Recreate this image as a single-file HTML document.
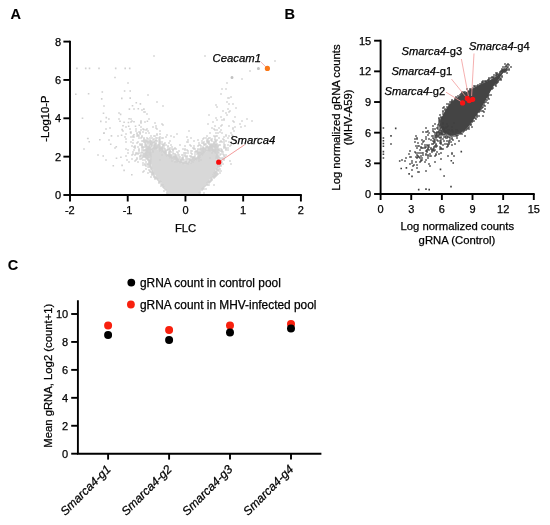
<!DOCTYPE html>
<html><head><meta charset="utf-8"><style>
html,body{margin:0;padding:0;background:#fff;width:550px;height:525px;overflow:hidden}
svg{display:block;will-change:transform}
text{stroke:#000;stroke-width:0.25px;}.h text{stroke-width:0.1px}
</style></head><body>
<svg width="550" height="525" viewBox="0 0 550 525" font-family='"Liberation Sans", sans-serif'><rect width="550" height="525" fill="#fff"/><g font-weight="bold" font-size="15" fill="#000" class="h"><text transform="translate(10.4 18.9) scale(0.97 1.03)">A</text><text transform="translate(284.6 18.9) scale(0.97 1.03)">B</text><text transform="translate(7.8 270.3) scale(0.97 1.03)">C</text></g><polygon points="168.5,194.0 162.0,183.0 155.5,175.5 152.0,167.0 151.0,158.0 151.5,151.0 154.0,149.0 158.0,150.0 163.0,153.0 168.0,157.0 173.0,160.0 179.0,163.0 185.0,165.0 190.0,163.5 196.0,160.5 201.0,156.0 206.0,152.0 211.0,151.0 215.0,153.5 216.5,161.0 216.0,168.0 213.5,174.0 209.0,180.5 203.5,187.0 198.0,194.0" fill="#d8d8d8"/><path d="M145.2 153.2h1.6v1.6h-1.6zM178.2 161.2h1.6v1.6h-1.6zM213.2 151.2h1.6v1.6h-1.6zM147.2 155.2h1.6v1.6h-1.6zM164.2 148.2h1.6v1.6h-1.6zM201.2 152.2h1.6v1.6h-1.6zM163.2 147.2h1.6v1.6h-1.6zM216.2 164.2h1.6v1.6h-1.6zM196.2 157.2h1.6v1.6h-1.6zM159.2 181.2h1.6v1.6h-1.6zM218.2 161.2h1.6v1.6h-1.6zM199.2 191.2h1.6v1.6h-1.6zM207.2 138.2h1.6v1.6h-1.6zM166.2 154.2h1.6v1.6h-1.6zM202.2 147.2h1.6v1.6h-1.6zM185.2 161.2h1.6v1.6h-1.6zM165.2 153.2h1.6v1.6h-1.6zM159.2 180.2h1.6v1.6h-1.6zM164.2 153.2h1.6v1.6h-1.6zM223.2 155.2h1.6v1.6h-1.6zM164.2 152.2h1.6v1.6h-1.6zM186.2 155.2h1.6v1.6h-1.6zM167.2 193.2h1.6v1.6h-1.6zM209.2 149.2h1.6v1.6h-1.6zM202.2 150.2h1.6v1.6h-1.6zM149.2 162.2h1.6v1.6h-1.6zM213.2 172.2h1.6v1.6h-1.6zM163.2 186.2h1.6v1.6h-1.6zM214.2 147.2h1.6v1.6h-1.6zM148.2 151.2h1.6v1.6h-1.6zM166.2 149.2h1.6v1.6h-1.6zM151.2 167.2h1.6v1.6h-1.6zM149.2 154.2h1.6v1.6h-1.6zM182.2 163.2h1.6v1.6h-1.6zM193.2 160.2h1.6v1.6h-1.6zM150.2 142.2h1.6v1.6h-1.6zM149.2 143.2h1.6v1.6h-1.6zM156.2 147.2h1.6v1.6h-1.6zM147.2 140.2h1.6v1.6h-1.6zM142.2 162.2h1.6v1.6h-1.6zM208.2 180.2h1.6v1.6h-1.6zM186.2 158.2h1.6v1.6h-1.6zM150.2 160.2h1.6v1.6h-1.6zM199.2 148.2h1.6v1.6h-1.6zM217.2 156.2h1.6v1.6h-1.6zM194.2 158.2h1.6v1.6h-1.6zM168.2 155.2h1.6v1.6h-1.6zM160.2 150.2h1.6v1.6h-1.6zM198.2 155.2h1.6v1.6h-1.6zM166.2 155.2h1.6v1.6h-1.6zM192.2 161.2h1.6v1.6h-1.6zM155.2 148.2h1.6v1.6h-1.6zM167.2 155.2h1.6v1.6h-1.6zM152.2 148.2h1.6v1.6h-1.6zM186.2 163.2h1.6v1.6h-1.6zM221.2 157.2h1.6v1.6h-1.6zM155.2 147.2h1.6v1.6h-1.6zM169.2 154.2h1.6v1.6h-1.6zM193.2 156.2h1.6v1.6h-1.6zM148.2 149.2h1.6v1.6h-1.6zM149.2 166.2h1.6v1.6h-1.6zM204.2 151.2h1.6v1.6h-1.6zM189.2 162.2h1.6v1.6h-1.6zM216.2 162.2h1.6v1.6h-1.6zM168.2 156.2h1.6v1.6h-1.6zM145.2 152.2h1.6v1.6h-1.6zM146.2 149.2h1.6v1.6h-1.6zM156.2 133.2h1.6v1.6h-1.6zM218.2 166.2h1.6v1.6h-1.6zM151.2 141.2h1.6v1.6h-1.6zM210.2 146.2h1.6v1.6h-1.6zM205.2 146.2h1.6v1.6h-1.6zM175.2 158.2h1.6v1.6h-1.6zM214.2 150.2h1.6v1.6h-1.6zM207.2 147.2h1.6v1.6h-1.6zM159.2 146.2h1.6v1.6h-1.6zM223.2 159.2h1.6v1.6h-1.6zM150.2 159.2h1.6v1.6h-1.6zM161.2 184.2h1.6v1.6h-1.6zM208.2 150.2h1.6v1.6h-1.6zM203.2 152.2h1.6v1.6h-1.6zM219.2 165.2h1.6v1.6h-1.6zM179.2 156.2h1.6v1.6h-1.6zM195.2 159.2h1.6v1.6h-1.6zM139.2 158.2h1.6v1.6h-1.6zM165.2 152.2h1.6v1.6h-1.6zM202.2 187.2h1.6v1.6h-1.6zM190.2 156.2h1.6v1.6h-1.6zM210.2 179.2h1.6v1.6h-1.6zM148.2 159.2h1.6v1.6h-1.6zM159.2 136.2h1.6v1.6h-1.6zM154.2 146.2h1.6v1.6h-1.6zM203.2 141.2h1.6v1.6h-1.6zM191.2 150.2h1.6v1.6h-1.6zM176.2 161.2h1.6v1.6h-1.6zM214.2 144.2h1.6v1.6h-1.6zM169.2 157.2h1.6v1.6h-1.6zM156.2 134.2h1.6v1.6h-1.6zM171.2 154.2h1.6v1.6h-1.6zM169.2 149.2h1.6v1.6h-1.6zM190.2 159.2h1.6v1.6h-1.6zM218.2 144.2h1.6v1.6h-1.6zM161.2 141.2h1.6v1.6h-1.6zM147.2 142.2h1.6v1.6h-1.6zM177.2 158.2h1.6v1.6h-1.6zM151.2 148.2h1.6v1.6h-1.6zM161.2 149.2h1.6v1.6h-1.6zM186.2 160.2h1.6v1.6h-1.6zM147.2 150.2h1.6v1.6h-1.6zM217.2 160.2h1.6v1.6h-1.6zM149.2 161.2h1.6v1.6h-1.6zM191.2 156.2h1.6v1.6h-1.6zM215.2 154.2h1.6v1.6h-1.6zM185.2 160.2h1.6v1.6h-1.6zM153.2 172.2h1.6v1.6h-1.6zM214.2 146.2h1.6v1.6h-1.6zM149.2 151.2h1.6v1.6h-1.6zM215.2 150.2h1.6v1.6h-1.6zM152.2 170.2h1.6v1.6h-1.6zM197.2 149.2h1.6v1.6h-1.6zM216.2 172.2h1.6v1.6h-1.6zM146.2 148.2h1.6v1.6h-1.6zM211.2 149.2h1.6v1.6h-1.6zM216.2 157.2h1.6v1.6h-1.6zM219.2 150.2h1.6v1.6h-1.6zM205.2 148.2h1.6v1.6h-1.6zM202.2 152.2h1.6v1.6h-1.6zM148.2 160.2h1.6v1.6h-1.6zM153.2 141.2h1.6v1.6h-1.6zM142.2 149.2h1.6v1.6h-1.6zM169.2 155.2h1.6v1.6h-1.6zM211.2 145.2h1.6v1.6h-1.6zM204.2 148.2h1.6v1.6h-1.6zM181.2 162.2h1.6v1.6h-1.6zM211.2 148.2h1.6v1.6h-1.6zM197.2 156.2h1.6v1.6h-1.6zM161.2 151.2h1.6v1.6h-1.6zM217.2 154.2h1.6v1.6h-1.6zM194.2 151.2h1.6v1.6h-1.6zM215.2 168.2h1.6v1.6h-1.6zM215.2 153.2h1.6v1.6h-1.6zM174.2 158.2h1.6v1.6h-1.6zM149.2 155.2h1.6v1.6h-1.6zM215.2 148.2h1.6v1.6h-1.6zM149.2 146.2h1.6v1.6h-1.6zM216.2 156.2h1.6v1.6h-1.6zM209.2 150.2h1.6v1.6h-1.6zM150.2 149.2h1.6v1.6h-1.6zM182.2 157.2h1.6v1.6h-1.6zM141.2 145.2h1.6v1.6h-1.6zM160.2 185.2h1.6v1.6h-1.6zM204.2 185.2h1.6v1.6h-1.6zM150.2 143.2h1.6v1.6h-1.6zM149.2 171.2h1.6v1.6h-1.6zM147.2 164.2h1.6v1.6h-1.6zM218.2 149.2h1.6v1.6h-1.6zM162.2 185.2h1.6v1.6h-1.6zM176.2 157.2h1.6v1.6h-1.6zM220.2 165.2h1.6v1.6h-1.6zM211.2 138.2h1.6v1.6h-1.6zM197.2 153.2h1.6v1.6h-1.6zM159.2 143.2h1.6v1.6h-1.6zM153.2 145.2h1.6v1.6h-1.6zM221.2 161.2h1.6v1.6h-1.6zM212.2 150.2h1.6v1.6h-1.6zM162.2 184.2h1.6v1.6h-1.6zM219.2 168.2h1.6v1.6h-1.6zM150.2 165.2h1.6v1.6h-1.6zM222.2 151.2h1.6v1.6h-1.6zM148.2 161.2h1.6v1.6h-1.6zM144.2 144.2h1.6v1.6h-1.6zM156.2 148.2h1.6v1.6h-1.6zM208.2 184.2h1.6v1.6h-1.6zM201.2 140.2h1.6v1.6h-1.6zM213.2 184.2h1.6v1.6h-1.6zM151.2 137.2h1.6v1.6h-1.6zM158.2 148.2h1.6v1.6h-1.6zM166.2 192.2h1.6v1.6h-1.6zM148.2 166.2h1.6v1.6h-1.6zM206.2 150.2h1.6v1.6h-1.6zM159.2 149.2h1.6v1.6h-1.6zM202.2 149.2h1.6v1.6h-1.6zM205.2 147.2h1.6v1.6h-1.6zM216.2 147.2h1.6v1.6h-1.6zM215.2 156.2h1.6v1.6h-1.6zM159.2 140.2h1.6v1.6h-1.6zM150.2 151.2h1.6v1.6h-1.6zM178.2 150.2h1.6v1.6h-1.6zM151.2 168.2h1.6v1.6h-1.6zM185.2 162.2h1.6v1.6h-1.6zM150.2 176.2h1.6v1.6h-1.6zM177.2 154.2h1.6v1.6h-1.6zM149.2 148.2h1.6v1.6h-1.6zM178.2 158.2h1.6v1.6h-1.6zM217.2 169.2h1.6v1.6h-1.6zM173.2 157.2h1.6v1.6h-1.6zM191.2 160.2h1.6v1.6h-1.6zM141.2 147.2h1.6v1.6h-1.6zM210.2 177.2h1.6v1.6h-1.6zM212.2 174.2h1.6v1.6h-1.6zM158.2 149.2h1.6v1.6h-1.6zM202.2 148.2h1.6v1.6h-1.6zM218.2 148.2h1.6v1.6h-1.6zM151.2 149.2h1.6v1.6h-1.6zM187.2 162.2h1.6v1.6h-1.6zM145.2 165.2h1.6v1.6h-1.6zM211.2 178.2h1.6v1.6h-1.6zM146.2 163.2h1.6v1.6h-1.6zM213.2 175.2h1.6v1.6h-1.6zM200.2 145.2h1.6v1.6h-1.6zM148.2 162.2h1.6v1.6h-1.6zM154.2 144.2h1.6v1.6h-1.6zM153.2 146.2h1.6v1.6h-1.6zM189.2 155.2h1.6v1.6h-1.6zM187.2 163.2h1.6v1.6h-1.6zM219.2 158.2h1.6v1.6h-1.6zM171.2 158.2h1.6v1.6h-1.6zM153.2 175.2h1.6v1.6h-1.6zM207.2 148.2h1.6v1.6h-1.6zM216.2 154.2h1.6v1.6h-1.6zM216.2 163.2h1.6v1.6h-1.6zM217.2 166.2h1.6v1.6h-1.6zM182.2 159.2h1.6v1.6h-1.6zM206.2 182.2h1.6v1.6h-1.6zM177.2 161.2h1.6v1.6h-1.6zM150.2 141.2h1.6v1.6h-1.6zM220.2 161.2h1.6v1.6h-1.6zM203.2 192.2h1.6v1.6h-1.6zM203.2 144.2h1.6v1.6h-1.6zM210.2 144.2h1.6v1.6h-1.6zM155.2 177.2h1.6v1.6h-1.6zM209.2 148.2h1.6v1.6h-1.6zM168.2 153.2h1.6v1.6h-1.6zM161.2 143.2h1.6v1.6h-1.6zM199.2 152.2h1.6v1.6h-1.6zM165.2 189.2h1.6v1.6h-1.6zM178.2 160.2h1.6v1.6h-1.6zM182.2 158.2h1.6v1.6h-1.6zM219.2 163.2h1.6v1.6h-1.6zM200.2 151.2h1.6v1.6h-1.6zM208.2 181.2h1.6v1.6h-1.6zM185.2 156.2h1.6v1.6h-1.6zM160.2 148.2h1.6v1.6h-1.6zM198.2 152.2h1.6v1.6h-1.6zM190.2 162.2h1.6v1.6h-1.6zM206.2 140.2h1.6v1.6h-1.6zM150.2 152.2h1.6v1.6h-1.6zM152.2 171.2h1.6v1.6h-1.6zM180.2 162.2h1.6v1.6h-1.6zM154.2 142.2h1.6v1.6h-1.6zM222.2 157.2h1.6v1.6h-1.6zM206.2 183.2h1.6v1.6h-1.6zM207.2 181.2h1.6v1.6h-1.6zM202.2 138.2h1.6v1.6h-1.6zM139.2 155.2h1.6v1.6h-1.6zM186.2 136.2h1.6v1.6h-1.6zM158.2 147.2h1.6v1.6h-1.6zM216.2 165.2h1.6v1.6h-1.6zM177.2 152.2h1.6v1.6h-1.6zM177.2 160.2h1.6v1.6h-1.6zM174.2 157.2h1.6v1.6h-1.6zM206.2 135.2h1.6v1.6h-1.6zM216.2 153.2h1.6v1.6h-1.6zM170.2 155.2h1.6v1.6h-1.6zM215.2 175.2h1.6v1.6h-1.6zM153.2 147.2h1.6v1.6h-1.6zM140.2 137.2h1.6v1.6h-1.6zM185.2 163.2h1.6v1.6h-1.6zM207.2 150.2h1.6v1.6h-1.6zM153.2 173.2h1.6v1.6h-1.6zM203.2 148.2h1.6v1.6h-1.6zM181.2 157.2h1.6v1.6h-1.6zM150.2 140.2h1.6v1.6h-1.6zM167.2 146.2h1.6v1.6h-1.6zM194.2 159.2h1.6v1.6h-1.6zM214.2 174.2h1.6v1.6h-1.6zM217.2 150.2h1.6v1.6h-1.6zM209.2 180.2h1.6v1.6h-1.6zM149.2 157.2h1.6v1.6h-1.6zM157.2 146.2h1.6v1.6h-1.6zM203.2 150.2h1.6v1.6h-1.6zM212.2 175.2h1.6v1.6h-1.6zM218.2 160.2h1.6v1.6h-1.6zM193.2 140.2h1.6v1.6h-1.6zM219.2 172.2h1.6v1.6h-1.6zM145.2 161.2h1.6v1.6h-1.6zM162.2 144.2h1.6v1.6h-1.6zM211.2 147.2h1.6v1.6h-1.6zM145.2 155.2h1.6v1.6h-1.6zM156.2 178.2h1.6v1.6h-1.6zM162.2 147.2h1.6v1.6h-1.6zM217.2 173.2h1.6v1.6h-1.6zM149.2 165.2h1.6v1.6h-1.6zM137.2 153.2h1.6v1.6h-1.6zM159.2 130.2h1.6v1.6h-1.6zM205.2 188.2h1.6v1.6h-1.6zM216.2 174.2h1.6v1.6h-1.6zM150.2 155.2h1.6v1.6h-1.6zM145.2 145.2h1.6v1.6h-1.6zM174.2 155.2h1.6v1.6h-1.6zM150.2 162.2h1.6v1.6h-1.6zM219.2 144.2h1.6v1.6h-1.6zM164.2 188.2h1.6v1.6h-1.6zM216.2 149.2h1.6v1.6h-1.6zM154.2 135.2h1.6v1.6h-1.6zM158.2 180.2h1.6v1.6h-1.6zM215.2 151.2h1.6v1.6h-1.6zM219.2 141.2h1.6v1.6h-1.6zM146.2 151.2h1.6v1.6h-1.6zM163.2 151.2h1.6v1.6h-1.6zM149.2 149.2h1.6v1.6h-1.6zM176.2 160.2h1.6v1.6h-1.6zM154.2 177.2h1.6v1.6h-1.6zM184.2 163.2h1.6v1.6h-1.6zM219.2 157.2h1.6v1.6h-1.6zM197.2 157.2h1.6v1.6h-1.6zM159.2 145.2h1.6v1.6h-1.6zM211.2 176.2h1.6v1.6h-1.6zM188.2 158.2h1.6v1.6h-1.6zM213.2 143.2h1.6v1.6h-1.6zM212.2 144.2h1.6v1.6h-1.6zM213.2 176.2h1.6v1.6h-1.6zM145.2 154.2h1.6v1.6h-1.6zM155.2 146.2h1.6v1.6h-1.6zM157.2 178.2h1.6v1.6h-1.6zM218.2 152.2h1.6v1.6h-1.6zM215.2 157.2h1.6v1.6h-1.6zM148.2 164.2h1.6v1.6h-1.6zM148.2 152.2h1.6v1.6h-1.6zM147.2 149.2h1.6v1.6h-1.6zM165.2 136.2h1.6v1.6h-1.6zM173.2 136.2h1.6v1.6h-1.6zM218.2 168.2h1.6v1.6h-1.6zM158.2 141.2h1.6v1.6h-1.6zM143.2 170.2h1.6v1.6h-1.6zM151.2 173.2h1.6v1.6h-1.6zM148.2 154.2h1.6v1.6h-1.6zM196.2 153.2h1.6v1.6h-1.6zM188.2 130.2h1.6v1.6h-1.6zM206.2 145.2h1.6v1.6h-1.6zM151.2 143.2h1.6v1.6h-1.6zM137.2 161.2h1.6v1.6h-1.6zM196.2 150.2h1.6v1.6h-1.6zM210.2 147.2h1.6v1.6h-1.6zM151.2 145.2h1.6v1.6h-1.6zM147.2 159.2h1.6v1.6h-1.6zM155.2 176.2h1.6v1.6h-1.6zM216.2 170.2h1.6v1.6h-1.6zM183.2 163.2h1.6v1.6h-1.6zM210.2 178.2h1.6v1.6h-1.6zM173.2 155.2h1.6v1.6h-1.6zM211.2 179.2h1.6v1.6h-1.6zM202.2 146.2h1.6v1.6h-1.6zM154.2 148.2h1.6v1.6h-1.6zM187.2 150.2h1.6v1.6h-1.6zM211.2 150.2h1.6v1.6h-1.6zM176.2 159.2h1.6v1.6h-1.6zM148.2 147.2h1.6v1.6h-1.6zM147.2 146.2h1.6v1.6h-1.6zM199.2 154.2h1.6v1.6h-1.6zM214.2 170.2h1.6v1.6h-1.6zM180.2 161.2h1.6v1.6h-1.6zM153.2 176.2h1.6v1.6h-1.6zM173.2 159.2h1.6v1.6h-1.6zM194.2 148.2h1.6v1.6h-1.6zM169.2 147.2h1.6v1.6h-1.6zM165.2 154.2h1.6v1.6h-1.6zM214.2 149.2h1.6v1.6h-1.6zM145.2 150.2h1.6v1.6h-1.6zM155.2 142.2h1.6v1.6h-1.6zM149.2 170.2h1.6v1.6h-1.6zM223.2 158.2h1.6v1.6h-1.6zM163.2 187.2h1.6v1.6h-1.6zM150.2 161.2h1.6v1.6h-1.6zM199.2 192.2h1.6v1.6h-1.6zM160.2 181.2h1.6v1.6h-1.6zM225.2 154.2h1.6v1.6h-1.6zM152.2 141.2h1.6v1.6h-1.6zM147.2 156.2h1.6v1.6h-1.6zM217.2 145.2h1.6v1.6h-1.6zM225.2 148.2h1.6v1.6h-1.6zM133.2 149.2h1.6v1.6h-1.6zM218.2 162.2h1.6v1.6h-1.6zM154.2 178.2h1.6v1.6h-1.6zM168.2 154.2h1.6v1.6h-1.6zM201.2 142.2h1.6v1.6h-1.6zM217.2 164.2h1.6v1.6h-1.6zM201.2 153.2h1.6v1.6h-1.6zM142.2 164.2h1.6v1.6h-1.6zM194.2 153.2h1.6v1.6h-1.6zM216.2 160.2h1.6v1.6h-1.6zM218.2 170.2h1.6v1.6h-1.6zM167.2 145.2h1.6v1.6h-1.6zM163.2 152.2h1.6v1.6h-1.6zM162.2 151.2h1.6v1.6h-1.6zM167.2 148.2h1.6v1.6h-1.6zM149.2 159.2h1.6v1.6h-1.6zM181.2 158.2h1.6v1.6h-1.6zM212.2 149.2h1.6v1.6h-1.6zM193.2 147.2h1.6v1.6h-1.6zM215.2 152.2h1.6v1.6h-1.6zM186.2 149.2h1.6v1.6h-1.6zM213.2 173.2h1.6v1.6h-1.6zM147.2 154.2h1.6v1.6h-1.6zM150.2 171.2h1.6v1.6h-1.6zM219.2 164.2h1.6v1.6h-1.6zM170.2 157.2h1.6v1.6h-1.6zM191.2 158.2h1.6v1.6h-1.6zM168.2 152.2h1.6v1.6h-1.6zM212.2 176.2h1.6v1.6h-1.6zM146.2 147.2h1.6v1.6h-1.6zM208.2 147.2h1.6v1.6h-1.6zM200.2 152.2h1.6v1.6h-1.6zM197.2 155.2h1.6v1.6h-1.6zM166.2 193.2h1.6v1.6h-1.6zM150.2 166.2h1.6v1.6h-1.6zM165.2 151.2h1.6v1.6h-1.6zM169.2 153.2h1.6v1.6h-1.6zM186.2 141.2h1.6v1.6h-1.6zM175.2 160.2h1.6v1.6h-1.6zM186.2 156.2h1.6v1.6h-1.6zM150.2 156.2h1.6v1.6h-1.6zM192.2 156.2h1.6v1.6h-1.6zM154.2 143.2h1.6v1.6h-1.6zM148.2 153.2h1.6v1.6h-1.6zM194.2 155.2h1.6v1.6h-1.6zM216.2 169.2h1.6v1.6h-1.6zM159.2 147.2h1.6v1.6h-1.6zM156.2 145.2h1.6v1.6h-1.6zM149.2 147.2h1.6v1.6h-1.6zM215.2 174.2h1.6v1.6h-1.6zM166.2 191.2h1.6v1.6h-1.6zM161.2 147.2h1.6v1.6h-1.6zM203.2 151.2h1.6v1.6h-1.6zM200.2 147.2h1.6v1.6h-1.6zM153.2 174.2h1.6v1.6h-1.6zM172.2 150.2h1.6v1.6h-1.6zM217.2 148.2h1.6v1.6h-1.6zM229.2 160.2h1.6v1.6h-1.6zM221.2 151.2h1.6v1.6h-1.6zM201.2 154.2h1.6v1.6h-1.6zM146.2 158.2h1.6v1.6h-1.6zM154.2 176.2h1.6v1.6h-1.6zM181.2 159.2h1.6v1.6h-1.6zM220.2 162.2h1.6v1.6h-1.6zM218.2 156.2h1.6v1.6h-1.6zM200.2 149.2h1.6v1.6h-1.6zM216.2 146.2h1.6v1.6h-1.6zM187.2 158.2h1.6v1.6h-1.6zM223.2 143.2h1.6v1.6h-1.6zM195.2 157.2h1.6v1.6h-1.6zM175.2 157.2h1.6v1.6h-1.6zM161.2 148.2h1.6v1.6h-1.6zM154.2 122.2h1.6v1.6h-1.6zM188.2 162.2h1.6v1.6h-1.6zM209.2 147.2h1.6v1.6h-1.6zM204.2 143.2h1.6v1.6h-1.6zM175.2 159.2h1.6v1.6h-1.6zM173.2 156.2h1.6v1.6h-1.6zM204.2 144.2h1.6v1.6h-1.6zM165.2 144.2h1.6v1.6h-1.6zM150.2 168.2h1.6v1.6h-1.6zM205.2 150.2h1.6v1.6h-1.6zM146.2 128.2h1.6v1.6h-1.6zM180.2 160.2h1.6v1.6h-1.6zM208.2 182.2h1.6v1.6h-1.6zM172.2 149.2h1.6v1.6h-1.6zM216.2 167.2h1.6v1.6h-1.6zM174.2 153.2h1.6v1.6h-1.6zM194.2 157.2h1.6v1.6h-1.6zM190.2 150.2h1.6v1.6h-1.6zM216.2 155.2h1.6v1.6h-1.6zM193.2 145.2h1.6v1.6h-1.6zM146.2 153.2h1.6v1.6h-1.6zM195.2 158.2h1.6v1.6h-1.6zM201.2 189.2h1.6v1.6h-1.6zM159.2 141.2h1.6v1.6h-1.6zM219.2 154.2h1.6v1.6h-1.6zM199.2 151.2h1.6v1.6h-1.6zM170.2 144.2h1.6v1.6h-1.6zM174.2 147.2h1.6v1.6h-1.6zM172.2 158.2h1.6v1.6h-1.6zM141.2 143.2h1.6v1.6h-1.6zM193.2 159.2h1.6v1.6h-1.6zM145.2 168.2h1.6v1.6h-1.6zM202.2 153.2h1.6v1.6h-1.6zM191.2 161.2h1.6v1.6h-1.6zM150.2 158.2h1.6v1.6h-1.6zM164.2 151.2h1.6v1.6h-1.6zM181.2 154.2h1.6v1.6h-1.6zM156.2 177.2h1.6v1.6h-1.6zM202.2 151.2h1.6v1.6h-1.6zM214.2 175.2h1.6v1.6h-1.6zM144.2 159.2h1.6v1.6h-1.6zM190.2 145.2h1.6v1.6h-1.6zM145.2 141.2h1.6v1.6h-1.6zM176.2 151.2h1.6v1.6h-1.6zM201.2 150.2h1.6v1.6h-1.6zM184.2 161.2h1.6v1.6h-1.6zM175.2 156.2h1.6v1.6h-1.6zM147.2 166.2h1.6v1.6h-1.6zM216.2 166.2h1.6v1.6h-1.6zM149.2 160.2h1.6v1.6h-1.6zM183.2 161.2h1.6v1.6h-1.6zM167.2 149.2h1.6v1.6h-1.6zM193.2 148.2h1.6v1.6h-1.6zM208.2 146.2h1.6v1.6h-1.6zM179.2 160.2h1.6v1.6h-1.6zM216.2 151.2h1.6v1.6h-1.6zM151.2 174.2h1.6v1.6h-1.6zM145.2 151.2h1.6v1.6h-1.6zM197.2 139.2h1.6v1.6h-1.6zM208.2 149.2h1.6v1.6h-1.6zM150.2 154.2h1.6v1.6h-1.6zM160.2 183.2h1.6v1.6h-1.6zM184.2 155.2h1.6v1.6h-1.6zM147.2 147.2h1.6v1.6h-1.6zM223.2 146.2h1.6v1.6h-1.6zM158.2 182.2h1.6v1.6h-1.6zM210.2 145.2h1.6v1.6h-1.6zM160.2 147.2h1.6v1.6h-1.6zM163.2 190.2h1.6v1.6h-1.6zM162.2 149.2h1.6v1.6h-1.6zM188.2 160.2h1.6v1.6h-1.6zM148.2 156.2h1.6v1.6h-1.6zM144.2 163.2h1.6v1.6h-1.6zM189.2 159.2h1.6v1.6h-1.6zM224.2 144.2h1.6v1.6h-1.6zM147.2 158.2h1.6v1.6h-1.6zM148.2 145.2h1.6v1.6h-1.6zM200.2 154.2h1.6v1.6h-1.6zM183.2 159.2h1.6v1.6h-1.6zM164.2 150.2h1.6v1.6h-1.6zM196.2 158.2h1.6v1.6h-1.6zM217.2 146.2h1.6v1.6h-1.6zM151.2 169.2h1.6v1.6h-1.6zM207.2 149.2h1.6v1.6h-1.6zM214.2 176.2h1.6v1.6h-1.6zM147.2 172.2h1.6v1.6h-1.6zM210.2 149.2h1.6v1.6h-1.6zM217.2 152.2h1.6v1.6h-1.6zM205.2 143.2h1.6v1.6h-1.6zM217.2 157.2h1.6v1.6h-1.6zM234.2 139.2h1.6v1.6h-1.6zM174.2 156.2h1.6v1.6h-1.6zM216.2 168.2h1.6v1.6h-1.6zM208.2 148.2h1.6v1.6h-1.6zM197.2 145.2h1.6v1.6h-1.6zM224.2 156.2h1.6v1.6h-1.6zM158.2 139.2h1.6v1.6h-1.6zM201.2 188.2h1.6v1.6h-1.6zM206.2 141.2h1.6v1.6h-1.6zM146.2 152.2h1.6v1.6h-1.6zM192.2 158.2h1.6v1.6h-1.6zM185.2 158.2h1.6v1.6h-1.6zM145.2 156.2h1.6v1.6h-1.6zM190.2 155.2h1.6v1.6h-1.6zM163.2 145.2h1.6v1.6h-1.6zM214.2 172.2h1.6v1.6h-1.6zM182.2 148.2h1.6v1.6h-1.6zM214.2 151.2h1.6v1.6h-1.6zM209.2 144.2h1.6v1.6h-1.6zM157.2 179.2h1.6v1.6h-1.6zM216.2 173.2h1.6v1.6h-1.6zM177.2 159.2h1.6v1.6h-1.6zM221.2 158.2h1.6v1.6h-1.6zM134.2 160.2h1.6v1.6h-1.6zM143.2 149.2h1.6v1.6h-1.6zM164.2 149.2h1.6v1.6h-1.6zM147.2 163.2h1.6v1.6h-1.6zM183.2 152.2h1.6v1.6h-1.6zM215.2 155.2h1.6v1.6h-1.6zM220.2 170.2h1.6v1.6h-1.6zM182.2 156.2h1.6v1.6h-1.6zM189.2 160.2h1.6v1.6h-1.6zM171.2 156.2h1.6v1.6h-1.6zM152.2 147.2h1.6v1.6h-1.6zM170.2 156.2h1.6v1.6h-1.6zM162.2 137.2h1.6v1.6h-1.6zM188.2 161.2h1.6v1.6h-1.6zM183.2 162.2h1.6v1.6h-1.6zM209.2 146.2h1.6v1.6h-1.6zM146.2 145.2h1.6v1.6h-1.6zM198.2 154.2h1.6v1.6h-1.6zM140.2 154.2h1.6v1.6h-1.6zM155.2 127.2h1.6v1.6h-1.6zM146.2 154.2h1.6v1.6h-1.6zM203.2 147.2h1.6v1.6h-1.6zM209.2 181.2h1.6v1.6h-1.6zM161.2 146.2h1.6v1.6h-1.6zM151.2 144.2h1.6v1.6h-1.6zM213.2 177.2h1.6v1.6h-1.6zM156.2 146.2h1.6v1.6h-1.6zM144.2 153.2h1.6v1.6h-1.6zM155.2 140.2h1.6v1.6h-1.6zM199.2 155.2h1.6v1.6h-1.6zM164.2 142.2h1.6v1.6h-1.6zM199.2 149.2h1.6v1.6h-1.6zM170.2 154.2h1.6v1.6h-1.6zM198.2 156.2h1.6v1.6h-1.6zM195.2 151.2h1.6v1.6h-1.6zM185.2 152.2h1.6v1.6h-1.6zM176.2 156.2h1.6v1.6h-1.6zM215.2 140.2h1.6v1.6h-1.6zM207.2 146.2h1.6v1.6h-1.6zM206.2 139.2h1.6v1.6h-1.6zM161.2 137.2h1.6v1.6h-1.6zM163.2 144.2h1.6v1.6h-1.6zM176.2 158.2h1.6v1.6h-1.6zM170.2 135.2h1.6v1.6h-1.6zM168.2 148.2h1.6v1.6h-1.6zM159.2 148.2h1.6v1.6h-1.6zM172.2 156.2h1.6v1.6h-1.6zM155.2 144.2h1.6v1.6h-1.6zM176.2 133.2h1.6v1.6h-1.6zM179.2 158.2h1.6v1.6h-1.6zM197.2 151.2h1.6v1.6h-1.6zM212.2 151.2h1.6v1.6h-1.6zM208.2 141.2h1.6v1.6h-1.6zM212.2 148.2h1.6v1.6h-1.6zM207.2 141.2h1.6v1.6h-1.6zM169.2 151.2h1.6v1.6h-1.6zM142.2 171.2h1.6v1.6h-1.6zM214.2 171.2h1.6v1.6h-1.6zM150.2 148.2h1.6v1.6h-1.6zM192.2 157.2h1.6v1.6h-1.6zM161.2 183.2h1.6v1.6h-1.6zM195.2 150.2h1.6v1.6h-1.6zM197.2 148.2h1.6v1.6h-1.6zM140.2 152.2h1.6v1.6h-1.6zM175.2 154.2h1.6v1.6h-1.6zM217.2 159.2h1.6v1.6h-1.6zM169.2 156.2h1.6v1.6h-1.6zM146.2 140.2h1.6v1.6h-1.6zM179.2 162.2h1.6v1.6h-1.6zM198.2 193.2h1.6v1.6h-1.6zM151.2 172.2h1.6v1.6h-1.6zM214.2 152.2h1.6v1.6h-1.6zM191.2 153.2h1.6v1.6h-1.6zM151.2 171.2h1.6v1.6h-1.6zM201.2 148.2h1.6v1.6h-1.6zM206.2 184.2h1.6v1.6h-1.6zM196.2 151.2h1.6v1.6h-1.6zM162.2 145.2h1.6v1.6h-1.6zM165.2 150.2h1.6v1.6h-1.6zM167.2 154.2h1.6v1.6h-1.6zM203.2 186.2h1.6v1.6h-1.6zM152.2 172.2h1.6v1.6h-1.6zM136.2 158.2h1.6v1.6h-1.6zM230.2 163.2h1.6v1.6h-1.6zM220.2 164.2h1.6v1.6h-1.6zM157.2 144.2h1.6v1.6h-1.6zM221.2 150.2h1.6v1.6h-1.6zM149.2 164.2h1.6v1.6h-1.6zM207.2 184.2h1.6v1.6h-1.6zM182.2 154.2h1.6v1.6h-1.6zM217.2 158.2h1.6v1.6h-1.6zM170.2 151.2h1.6v1.6h-1.6zM186.2 162.2h1.6v1.6h-1.6zM148.2 141.2h1.6v1.6h-1.6zM198.2 192.2h1.6v1.6h-1.6zM215.2 171.2h1.6v1.6h-1.6zM150.2 167.2h1.6v1.6h-1.6zM147.2 152.2h1.6v1.6h-1.6zM153.2 144.2h1.6v1.6h-1.6zM152.2 173.2h1.6v1.6h-1.6zM148.2 169.2h1.6v1.6h-1.6zM172.2 152.2h1.6v1.6h-1.6zM184.2 145.2h1.6v1.6h-1.6zM227.2 147.2h1.6v1.6h-1.6zM150.2 153.2h1.6v1.6h-1.6zM205.2 184.2h1.6v1.6h-1.6zM159.2 150.2h1.6v1.6h-1.6zM221.2 149.2h1.6v1.6h-1.6zM212.2 146.2h1.6v1.6h-1.6zM147.2 157.2h1.6v1.6h-1.6zM217.2 155.2h1.6v1.6h-1.6zM136.2 157.2h1.6v1.6h-1.6zM179.2 144.2h1.6v1.6h-1.6zM171.2 148.2h1.6v1.6h-1.6zM214.2 148.2h1.6v1.6h-1.6zM168.2 151.2h1.6v1.6h-1.6zM215.2 149.2h1.6v1.6h-1.6zM173.2 148.2h1.6v1.6h-1.6zM132.2 151.2h1.6v1.6h-1.6zM145.2 139.2h1.6v1.6h-1.6zM198.2 153.2h1.6v1.6h-1.6zM205.2 149.2h1.6v1.6h-1.6zM149.2 163.2h1.6v1.6h-1.6zM142.2 147.2h1.6v1.6h-1.6zM197.2 152.2h1.6v1.6h-1.6zM158.2 144.2h1.6v1.6h-1.6zM189.2 144.2h1.6v1.6h-1.6zM184.2 154.2h1.6v1.6h-1.6zM169.2 150.2h1.6v1.6h-1.6zM149.2 139.2h1.6v1.6h-1.6zM222.2 163.2h1.6v1.6h-1.6zM216.2 158.2h1.6v1.6h-1.6zM149.2 150.2h1.6v1.6h-1.6zM171.2 146.2h1.6v1.6h-1.6zM162.2 150.2h1.6v1.6h-1.6zM204.2 149.2h1.6v1.6h-1.6zM144.2 164.2h1.6v1.6h-1.6zM145.2 146.2h1.6v1.6h-1.6zM215.2 141.2h1.6v1.6h-1.6zM150.2 163.2h1.6v1.6h-1.6zM203.2 188.2h1.6v1.6h-1.6zM219.2 159.2h1.6v1.6h-1.6zM158.2 145.2h1.6v1.6h-1.6zM190.2 160.2h1.6v1.6h-1.6zM178.2 154.2h1.6v1.6h-1.6zM171.2 157.2h1.6v1.6h-1.6zM175.2 155.2h1.6v1.6h-1.6zM214.2 173.2h1.6v1.6h-1.6zM181.2 161.2h1.6v1.6h-1.6zM199.2 144.2h1.6v1.6h-1.6zM158.2 181.2h1.6v1.6h-1.6zM208.2 143.2h1.6v1.6h-1.6zM210.2 180.2h1.6v1.6h-1.6zM218.2 165.2h1.6v1.6h-1.6zM147.2 151.2h1.6v1.6h-1.6zM209.2 145.2h1.6v1.6h-1.6zM162.2 186.2h1.6v1.6h-1.6zM203.2 137.2h1.6v1.6h-1.6zM206.2 146.2h1.6v1.6h-1.6zM182.2 162.2h1.6v1.6h-1.6zM215.2 144.2h1.6v1.6h-1.6zM215.2 172.2h1.6v1.6h-1.6zM144.2 152.2h1.6v1.6h-1.6zM179.2 161.2h1.6v1.6h-1.6zM184.2 148.2h1.6v1.6h-1.6zM202.2 188.2h1.6v1.6h-1.6zM200.2 153.2h1.6v1.6h-1.6zM163.2 143.2h1.6v1.6h-1.6zM152.2 126.2h1.6v1.6h-1.6zM208.2 142.2h1.6v1.6h-1.6zM144.2 111.2h1.6v1.6h-1.6zM143.2 150.2h1.6v1.6h-1.6zM135.2 159.2h1.6v1.6h-1.6zM142.2 156.2h1.6v1.6h-1.6zM131.2 154.2h1.6v1.6h-1.6zM132.2 142.2h1.6v1.6h-1.6zM148.2 132.2h1.6v1.6h-1.6zM149.2 152.2h1.6v1.6h-1.6zM97.2 154.2h1.6v1.6h-1.6zM142.2 154.2h1.6v1.6h-1.6zM144.2 149.2h1.6v1.6h-1.6zM137.2 141.2h1.6v1.6h-1.6zM140.2 126.2h1.6v1.6h-1.6zM105.2 121.2h1.6v1.6h-1.6zM138.2 152.2h1.6v1.6h-1.6zM138.2 135.2h1.6v1.6h-1.6zM156.2 101.2h1.6v1.6h-1.6zM137.2 134.2h1.6v1.6h-1.6zM150.2 146.2h1.6v1.6h-1.6zM126.2 159.2h1.6v1.6h-1.6zM114.2 147.2h1.6v1.6h-1.6zM128.2 161.2h1.6v1.6h-1.6zM158.2 143.2h1.6v1.6h-1.6zM130.2 136.2h1.6v1.6h-1.6zM124.2 136.2h1.6v1.6h-1.6zM153.2 148.2h1.6v1.6h-1.6zM135.2 153.2h1.6v1.6h-1.6zM145.2 143.2h1.6v1.6h-1.6zM137.2 135.2h1.6v1.6h-1.6zM118.2 112.2h1.6v1.6h-1.6zM146.2 157.2h1.6v1.6h-1.6zM141.2 144.2h1.6v1.6h-1.6zM147.2 130.2h1.6v1.6h-1.6zM149.2 140.2h1.6v1.6h-1.6zM134.2 147.2h1.6v1.6h-1.6zM146.2 155.2h1.6v1.6h-1.6zM144.2 142.2h1.6v1.6h-1.6zM146.2 113.2h1.6v1.6h-1.6zM143.2 139.2h1.6v1.6h-1.6zM140.2 121.2h1.6v1.6h-1.6zM152.2 150.2h1.6v1.6h-1.6zM117.2 135.2h1.6v1.6h-1.6zM142.2 155.2h1.6v1.6h-1.6zM135.2 128.2h1.6v1.6h-1.6zM136.2 135.2h1.6v1.6h-1.6zM147.2 143.2h1.6v1.6h-1.6zM147.2 138.2h1.6v1.6h-1.6zM154.2 140.2h1.6v1.6h-1.6zM145.2 132.2h1.6v1.6h-1.6zM166.2 134.2h1.6v1.6h-1.6zM135.2 152.2h1.6v1.6h-1.6zM139.2 131.2h1.6v1.6h-1.6zM118.2 118.2h1.6v1.6h-1.6zM140.2 129.2h1.6v1.6h-1.6zM141.2 146.2h1.6v1.6h-1.6zM143.2 153.2h1.6v1.6h-1.6zM141.2 135.2h1.6v1.6h-1.6zM147.2 148.2h1.6v1.6h-1.6zM132.2 139.2h1.6v1.6h-1.6zM142.2 128.2h1.6v1.6h-1.6zM130.2 132.2h1.6v1.6h-1.6zM131.2 158.2h1.6v1.6h-1.6zM109.2 127.2h1.6v1.6h-1.6zM155.2 137.2h1.6v1.6h-1.6zM141.2 157.2h1.6v1.6h-1.6zM136.2 133.2h1.6v1.6h-1.6zM130.2 121.2h1.6v1.6h-1.6zM153.2 135.2h1.6v1.6h-1.6zM132.2 153.2h1.6v1.6h-1.6zM148.2 146.2h1.6v1.6h-1.6zM105.2 128.2h1.6v1.6h-1.6zM131.2 145.2h1.6v1.6h-1.6zM133.2 146.2h1.6v1.6h-1.6zM152.2 139.2h1.6v1.6h-1.6zM129.2 128.2h1.6v1.6h-1.6zM146.2 150.2h1.6v1.6h-1.6zM154.2 147.2h1.6v1.6h-1.6zM156.2 128.2h1.6v1.6h-1.6zM140.2 158.2h1.6v1.6h-1.6zM83.2 148.2h1.6v1.6h-1.6zM145.2 129.2h1.6v1.6h-1.6zM155.2 139.2h1.6v1.6h-1.6zM159.2 142.2h1.6v1.6h-1.6zM145.2 148.2h1.6v1.6h-1.6zM138.2 149.2h1.6v1.6h-1.6zM130.2 131.2h1.6v1.6h-1.6zM140.2 144.2h1.6v1.6h-1.6zM148.2 148.2h1.6v1.6h-1.6zM153.2 138.2h1.6v1.6h-1.6zM152.2 142.2h1.6v1.6h-1.6zM149.2 137.2h1.6v1.6h-1.6zM137.2 146.2h1.6v1.6h-1.6zM138.2 148.2h1.6v1.6h-1.6zM144.2 154.2h1.6v1.6h-1.6zM149.2 153.2h1.6v1.6h-1.6zM145.2 149.2h1.6v1.6h-1.6zM143.2 137.2h1.6v1.6h-1.6zM155.2 143.2h1.6v1.6h-1.6zM139.2 143.2h1.6v1.6h-1.6zM138.2 150.2h1.6v1.6h-1.6zM142.2 140.2h1.6v1.6h-1.6zM147.2 94.2h1.6v1.6h-1.6zM130.2 141.2h1.6v1.6h-1.6zM131.2 120.2h1.6v1.6h-1.6zM156.2 140.2h1.6v1.6h-1.6zM127.2 152.2h1.6v1.6h-1.6zM138.2 137.2h1.6v1.6h-1.6zM143.2 155.2h1.6v1.6h-1.6zM142.2 152.2h1.6v1.6h-1.6zM159.2 133.2h1.6v1.6h-1.6zM141.2 149.2h1.6v1.6h-1.6zM161.2 123.2h1.6v1.6h-1.6zM133.2 136.2h1.6v1.6h-1.6zM122.2 130.2h1.6v1.6h-1.6zM125.2 148.2h1.6v1.6h-1.6zM136.2 132.2h1.6v1.6h-1.6zM127.2 149.2h1.6v1.6h-1.6zM154.2 145.2h1.6v1.6h-1.6zM139.2 144.2h1.6v1.6h-1.6zM150.2 135.2h1.6v1.6h-1.6zM152.2 151.2h1.6v1.6h-1.6zM140.2 122.2h1.6v1.6h-1.6zM156.2 137.2h1.6v1.6h-1.6zM145.2 157.2h1.6v1.6h-1.6zM125.2 138.2h1.6v1.6h-1.6zM125.2 133.2h1.6v1.6h-1.6zM155.2 125.2h1.6v1.6h-1.6zM146.2 141.2h1.6v1.6h-1.6zM108.2 139.2h1.6v1.6h-1.6zM141.2 151.2h1.6v1.6h-1.6zM143.2 111.2h1.6v1.6h-1.6zM144.2 155.2h1.6v1.6h-1.6zM135.2 130.2h1.6v1.6h-1.6zM142.2 146.2h1.6v1.6h-1.6zM144.2 121.2h1.6v1.6h-1.6zM148.2 118.2h1.6v1.6h-1.6zM105.2 159.2h1.6v1.6h-1.6zM162.2 124.2h1.6v1.6h-1.6zM144.2 156.2h1.6v1.6h-1.6zM139.2 156.2h1.6v1.6h-1.6zM136.2 142.2h1.6v1.6h-1.6zM145.2 144.2h1.6v1.6h-1.6zM141.2 136.2h1.6v1.6h-1.6zM146.2 137.2h1.6v1.6h-1.6zM125.2 141.2h1.6v1.6h-1.6zM133.2 108.2h1.6v1.6h-1.6zM130.2 118.2h1.6v1.6h-1.6zM142.2 159.2h1.6v1.6h-1.6zM134.2 145.2h1.6v1.6h-1.6zM136.2 152.2h1.6v1.6h-1.6zM144.2 146.2h1.6v1.6h-1.6zM150.2 144.2h1.6v1.6h-1.6zM139.2 133.2h1.6v1.6h-1.6zM127.2 82.2h1.6v1.6h-1.6zM143.2 141.2h1.6v1.6h-1.6zM141.2 140.2h1.6v1.6h-1.6zM162.2 105.2h1.6v1.6h-1.6zM144.2 140.2h1.6v1.6h-1.6zM143.2 138.2h1.6v1.6h-1.6zM132.2 136.2h1.6v1.6h-1.6zM143.2 156.2h1.6v1.6h-1.6zM159.2 138.2h1.6v1.6h-1.6zM134.2 146.2h1.6v1.6h-1.6zM132.2 135.2h1.6v1.6h-1.6zM149.2 144.2h1.6v1.6h-1.6zM125.2 126.2h1.6v1.6h-1.6zM142.2 131.2h1.6v1.6h-1.6zM125.2 155.2h1.6v1.6h-1.6zM140.2 120.2h1.6v1.6h-1.6zM103.2 105.2h1.6v1.6h-1.6zM141.2 109.2h1.6v1.6h-1.6zM143.2 146.2h1.6v1.6h-1.6zM158.2 137.2h1.6v1.6h-1.6zM140.2 155.2h1.6v1.6h-1.6zM134.2 154.2h1.6v1.6h-1.6zM149.2 142.2h1.6v1.6h-1.6zM153.2 55.2h1.6v1.6h-1.6zM138.2 131.2h1.6v1.6h-1.6zM213.2 150.2h1.6v1.6h-1.6zM239.2 123.2h1.6v1.6h-1.6zM228.2 141.2h1.6v1.6h-1.6zM217.2 149.2h1.6v1.6h-1.6zM220.2 93.2h1.6v1.6h-1.6zM208.2 140.2h1.6v1.6h-1.6zM220.2 153.2h1.6v1.6h-1.6zM212.2 143.2h1.6v1.6h-1.6zM211.2 127.2h1.6v1.6h-1.6zM221.2 119.2h1.6v1.6h-1.6zM220.2 125.2h1.6v1.6h-1.6zM220.2 148.2h1.6v1.6h-1.6zM225.2 135.2h1.6v1.6h-1.6zM223.2 118.2h1.6v1.6h-1.6zM216.2 106.2h1.6v1.6h-1.6zM241.2 120.2h1.6v1.6h-1.6zM211.2 146.2h1.6v1.6h-1.6zM229.2 110.2h1.6v1.6h-1.6zM215.2 145.2h1.6v1.6h-1.6zM244.2 125.2h1.6v1.6h-1.6zM215.2 146.2h1.6v1.6h-1.6zM204.2 55.2h1.6v1.6h-1.6zM214.2 143.2h1.6v1.6h-1.6zM220.2 129.2h1.6v1.6h-1.6zM225.2 140.2h1.6v1.6h-1.6zM233.2 130.2h1.6v1.6h-1.6zM246.2 118.2h1.6v1.6h-1.6zM217.2 151.2h1.6v1.6h-1.6zM229.2 145.2h1.6v1.6h-1.6zM208.2 114.2h1.6v1.6h-1.6zM223.2 145.2h1.6v1.6h-1.6zM234.2 126.2h1.6v1.6h-1.6zM228.2 97.2h1.6v1.6h-1.6zM232.2 128.2h1.6v1.6h-1.6zM215.2 117.2h1.6v1.6h-1.6zM215.2 132.2h1.6v1.6h-1.6zM222.2 153.2h1.6v1.6h-1.6zM216.2 139.2h1.6v1.6h-1.6zM207.2 140.2h1.6v1.6h-1.6zM221.2 132.2h1.6v1.6h-1.6zM231.2 134.2h1.6v1.6h-1.6zM207.2 142.2h1.6v1.6h-1.6zM223.2 147.2h1.6v1.6h-1.6zM209.2 132.2h1.6v1.6h-1.6zM227.2 144.2h1.6v1.6h-1.6zM225.2 112.2h1.6v1.6h-1.6zM223.2 139.2h1.6v1.6h-1.6zM251.2 120.2h1.6v1.6h-1.6zM227.2 97.2h1.6v1.6h-1.6zM215.2 104.2h1.6v1.6h-1.6zM210.2 139.2h1.6v1.6h-1.6zM221.2 88.2h1.6v1.6h-1.6zM214.2 141.2h1.6v1.6h-1.6zM210.2 143.2h1.6v1.6h-1.6zM216.2 143.2h1.6v1.6h-1.6zM228.2 103.2h1.6v1.6h-1.6zM213.2 141.2h1.6v1.6h-1.6zM213.2 135.2h1.6v1.6h-1.6zM213.2 142.2h1.6v1.6h-1.6zM228.2 135.2h1.6v1.6h-1.6zM220.2 116.2h1.6v1.6h-1.6zM223.2 136.2h1.6v1.6h-1.6zM214.2 139.2h1.6v1.6h-1.6zM216.2 119.2h1.6v1.6h-1.6zM222.2 138.2h1.6v1.6h-1.6zM209.2 137.2h1.6v1.6h-1.6zM216.2 129.2h1.6v1.6h-1.6zM230.2 132.2h1.6v1.6h-1.6zM249.2 70.2h1.6v1.6h-1.6zM217.2 132.2h1.6v1.6h-1.6zM216.2 144.2h1.6v1.6h-1.6zM225.2 134.2h1.6v1.6h-1.6zM213.2 146.2h1.6v1.6h-1.6zM241.2 78.2h1.6v1.6h-1.6zM232.2 135.2h1.6v1.6h-1.6zM214.2 125.2h1.6v1.6h-1.6zM230.2 96.2h1.6v1.6h-1.6zM225.2 147.2h1.6v1.6h-1.6zM207.2 123.2h1.6v1.6h-1.6zM218.2 137.2h1.6v1.6h-1.6zM224.2 146.2h1.6v1.6h-1.6zM230.2 144.2h1.6v1.6h-1.6zM214.2 129.2h1.6v1.6h-1.6zM233.2 121.2h1.6v1.6h-1.6zM213.2 145.2h1.6v1.6h-1.6zM211.2 140.2h1.6v1.6h-1.6zM226.2 101.2h1.6v1.6h-1.6zM223.2 141.2h1.6v1.6h-1.6zM221.2 124.2h1.6v1.6h-1.6zM219.2 131.2h1.6v1.6h-1.6zM215.2 143.2h1.6v1.6h-1.6zM226.2 82.2h1.6v1.6h-1.6zM228.2 125.2h1.6v1.6h-1.6zM232.2 127.2h1.6v1.6h-1.6zM212.2 145.2h1.6v1.6h-1.6zM214.2 136.2h1.6v1.6h-1.6zM212.2 121.2h1.6v1.6h-1.6zM213.2 128.2h1.6v1.6h-1.6zM240.2 126.2h1.6v1.6h-1.6zM223.2 154.2h1.6v1.6h-1.6zM228.2 111.2h1.6v1.6h-1.6zM235.2 107.2h1.6v1.6h-1.6zM222.2 110.2h1.6v1.6h-1.6zM223.2 119.2h1.6v1.6h-1.6zM220.2 140.2h1.6v1.6h-1.6zM225.2 149.2h1.6v1.6h-1.6zM216.2 135.2h1.6v1.6h-1.6zM227.2 137.2h1.6v1.6h-1.6zM227.2 108.2h1.6v1.6h-1.6zM220.2 150.2h1.6v1.6h-1.6zM232.2 103.2h1.6v1.6h-1.6zM221.2 141.2h1.6v1.6h-1.6zM227.2 149.2h1.6v1.6h-1.6zM274.2 60.2h1.6v1.6h-1.6zM211.2 144.2h1.6v1.6h-1.6zM218.2 127.2h1.6v1.6h-1.6zM225.2 88.2h1.6v1.6h-1.6zM234.2 116.2h1.6v1.6h-1.6zM232.2 120.2h1.6v1.6h-1.6zM215.2 135.2h1.6v1.6h-1.6zM214.2 145.2h1.6v1.6h-1.6zM214.2 138.2h1.6v1.6h-1.6zM226.2 114.2h1.6v1.6h-1.6zM208.2 137.2h1.6v1.6h-1.6zM213.2 149.2h1.6v1.6h-1.6zM198.2 142.2h1.6v1.6h-1.6zM193.2 157.2h1.6v1.6h-1.6zM178.2 156.2h1.6v1.6h-1.6zM187.2 141.2h1.6v1.6h-1.6zM159.2 159.2h1.6v1.6h-1.6zM187.2 139.2h1.6v1.6h-1.6zM187.2 152.2h1.6v1.6h-1.6zM203.2 143.2h1.6v1.6h-1.6zM173.2 153.2h1.6v1.6h-1.6zM192.2 159.2h1.6v1.6h-1.6zM205.2 137.2h1.6v1.6h-1.6zM190.2 152.2h1.6v1.6h-1.6zM199.2 156.2h1.6v1.6h-1.6zM198.2 160.2h1.6v1.6h-1.6zM202.2 142.2h1.6v1.6h-1.6zM198.2 157.2h1.6v1.6h-1.6zM184.2 152.2h1.6v1.6h-1.6zM180.2 159.2h1.6v1.6h-1.6zM200.2 159.2h1.6v1.6h-1.6zM184.2 149.2h1.6v1.6h-1.6zM174.2 161.2h1.6v1.6h-1.6zM198.2 144.2h1.6v1.6h-1.6zM175.2 148.2h1.6v1.6h-1.6zM168.2 142.2h1.6v1.6h-1.6zM192.2 147.2h1.6v1.6h-1.6zM190.2 137.2h1.6v1.6h-1.6zM171.2 160.2h1.6v1.6h-1.6zM189.2 158.2h1.6v1.6h-1.6zM161.2 154.2h1.6v1.6h-1.6zM209.2 157.2h1.6v1.6h-1.6zM198.2 151.2h1.6v1.6h-1.6zM211.2 152.2h1.6v1.6h-1.6zM198.2 158.2h1.6v1.6h-1.6zM169.2 140.2h1.6v1.6h-1.6zM76.1 67.6h1.6v1.6h-1.6zM84.9 67.6h1.6v1.6h-1.6zM88.7 67.6h1.6v1.6h-1.6zM98.2 67.6h1.6v1.6h-1.6zM114.9 67.6h1.6v1.6h-1.6zM124.4 67.6h1.6v1.6h-1.6zM128.9 67.6h1.6v1.6h-1.6zM114.2 76.7h1.6v1.6h-1.6zM75.0 93.5h1.6v1.6h-1.6zM87.8 93.0h1.6v1.6h-1.6zM101.5 91.2h1.6v1.6h-1.6zM100.9 98.1h1.6v1.6h-1.6zM123.8 90.2h1.6v1.6h-1.6zM129.4 90.2h1.6v1.6h-1.6zM121.0 97.6h1.6v1.6h-1.6zM129.4 97.3h1.6v1.6h-1.6zM135.5 101.9h1.6v1.6h-1.6zM139.6 103.1h1.6v1.6h-1.6zM131.7 104.9h1.6v1.6h-1.6zM128.6 108.3h1.6v1.6h-1.6zM137.5 108.0h1.6v1.6h-1.6zM143.1 108.3h1.6v1.6h-1.6zM102.7 112.5h1.6v1.6h-1.6zM81.7 117.4h1.6v1.6h-1.6zM105.5 116.8h1.6v1.6h-1.6zM108.1 118.2h1.6v1.6h-1.6zM100.0 120.6h1.6v1.6h-1.6zM119.8 113.6h1.6v1.6h-1.6zM128.3 117.9h1.6v1.6h-1.6zM119.2 120.5h1.6v1.6h-1.6zM123.3 121.4h1.6v1.6h-1.6zM127.6 121.7h1.6v1.6h-1.6zM133.2 120.9h1.6v1.6h-1.6zM140.1 121.7h1.6v1.6h-1.6zM146.6 120.5h1.6v1.6h-1.6zM122.2 125.0h1.6v1.6h-1.6zM127.9 125.5h1.6v1.6h-1.6zM134.7 125.5h1.6v1.6h-1.6zM138.5 124.4h1.6v1.6h-1.6zM121.3 128.8h1.6v1.6h-1.6zM143.1 128.8h1.6v1.6h-1.6zM103.0 132.3h1.6v1.6h-1.6zM110.6 134.9h1.6v1.6h-1.6zM129.8 131.6h1.6v1.6h-1.6zM133.2 133.9h1.6v1.6h-1.6zM87.2 137.7h1.6v1.6h-1.6zM139.3 132.3h1.6v1.6h-1.6zM86.9 137.7h1.6v1.6h-1.6zM88.4 140.9h1.6v1.6h-1.6zM99.0 139.0h1.6v1.6h-1.6zM103.4 132.2h1.6v1.6h-1.6zM110.7 135.1h1.6v1.6h-1.6zM109.9 143.4h1.6v1.6h-1.6zM102.4 155.2h1.6v1.6h-1.6zM112.5 164.9h1.6v1.6h-1.6zM115.5 146.0h1.6v1.6h-1.6zM115.7 157.4h1.6v1.6h-1.6zM120.1 156.5h1.6v1.6h-1.6zM121.3 164.6h1.6v1.6h-1.6zM123.3 169.6h1.6v1.6h-1.6zM131.0 173.9h1.6v1.6h-1.6zM120.8 134.4h1.6v1.6h-1.6zM231.2 76.6h1.6v1.6h-1.6zM257.7 67.8h1.6v1.6h-1.6z" fill="#d0d0d0"/><line x1="260.9" y1="62" x2="267.4" y2="68.4" stroke="#f2a0a0" stroke-width="0.8"/><path d="M256.90 68.40a1.5 1.5 0 1 0 3.0 0a1.5 1.5 0 1 0 -3.0 0M230.50 77.40a1.5 1.5 0 1 0 3.0 0a1.5 1.5 0 1 0 -3.0 0" fill="#c2c2c2"/><path d="M264.80 68.40a2.6 2.6 0 1 0 5.2 0a2.6 2.6 0 1 0 -5.2 0" fill="#fa7818"/><line x1="244.7" y1="144.7" x2="218.7" y2="162.3" stroke="#f08080" stroke-width="0.8"/><path d="M216.10 162.20a2.6 2.6 0 1 0 5.2 0a2.6 2.6 0 1 0 -5.2 0" fill="#f80c0c"/><g font-size="11.3" font-style="italic" fill="#000"><text x="212.6" y="61.8">Ceacam1</text><text x="230" y="144.3">Smarca4</text></g><g stroke="#000" stroke-width="1.9" fill="none"><path d="M70.0 40.7 V195.0 H301.79999999999995"/><path d="M63.4 195.00 H70.0"/><path d="M63.4 156.65 H70.0"/><path d="M63.4 118.30 H70.0"/><path d="M63.4 79.95 H70.0"/><path d="M63.4 41.60 H70.0"/><path d="M70.00 195.0 V201.5"/><path d="M127.72 195.0 V201.5"/><path d="M185.45 195.0 V201.5"/><path d="M243.17 195.0 V201.5"/><path d="M300.90 195.0 V201.5"/></g><g font-size="11.0" fill="#000" text-anchor="end"><text x="61" y="198.90">0</text><text x="61" y="160.55">2</text><text x="61" y="122.20">4</text><text x="61" y="83.85">6</text><text x="61" y="45.50">8</text></g><g font-size="11.0" fill="#000" text-anchor="middle"><text x="69.80" y="214.2">-2</text><text x="127.52" y="214.2">-1</text><text x="185.45" y="214.2">0</text><text x="243.17" y="214.2">1</text><text x="300.90" y="214.2">2</text></g><text x="185.6" y="231.8" font-size="11.3" text-anchor="middle">FLC</text><text transform="translate(49.2 118.6) rotate(-90)" font-size="11.3" text-anchor="middle">-Log10-P</text><polygon points="507.2,67.2 501.0,72.9 495.4,77.0 487.2,81.4 478.8,85.3 478.8,85.3 470.2,89.9 460.8,94.8 460.8,94.9 455.8,98.4 455.7,98.4 451.3,102.0 451.3,102.0 451.3,102.1 446.2,108.7 446.2,108.7 446.1,108.7 442.6,115.4 440.5,119.3 440.4,119.3 440.4,119.4 440.4,119.4 440.4,119.5 439.9,125.1 439.9,125.1 439.9,125.1 439.9,125.2 439.9,125.2 439.9,125.2 439.9,125.3 443.3,132.2 443.4,132.2 443.4,132.2 443.4,132.3 443.4,132.3 443.5,132.3 443.5,132.3 443.5,132.4 443.6,132.4 452.2,135.8 452.2,135.8 452.2,135.8 452.3,135.8 452.3,135.8 452.4,135.8 452.4,135.8 459.2,134.1 459.2,134.1 459.3,134.1 459.3,134.0 459.3,134.0 466.2,128.9 466.3,128.9 466.3,128.9 469.8,124.8 469.8,124.7 473.2,120.2 473.2,120.2 476.6,115.2 476.6,115.2 480.0,109.9 480.1,109.9 483.3,103.9 486.9,97.9 487.0,97.9 490.3,91.7 493.7,85.9 498.9,79.1 498.9,79.1 503.3,72.7 507.8,67.8 507.8,67.7 507.8,67.7 507.9,67.7 507.9,67.6 507.9,67.6 507.9,67.6 507.9,67.5 507.9,67.5 507.9,67.4 507.9,67.4 507.9,67.4 507.9,67.3 507.8,67.3 507.8,67.3 507.8,67.2 507.8,67.2 507.7,67.2 507.7,67.2 507.7,67.1 507.6,67.1 507.6,67.1 507.6,67.1 507.5,67.1 507.5,67.1 507.4,67.1 507.4,67.1 507.4,67.1 507.3,67.1 507.3,67.2 507.3,67.2 507.2,67.2" fill="#444444"/><path d="M485.2 80.2h1.6v1.6h-1.6zM482.2 82.2h1.6v1.6h-1.6zM491.2 88.2h1.6v1.6h-1.6zM503.2 71.2h1.6v1.6h-1.6zM464.2 91.2h1.6v1.6h-1.6zM465.2 129.2h1.6v1.6h-1.6zM470.2 124.2h1.6v1.6h-1.6zM481.2 82.2h1.6v1.6h-1.6zM444.2 109.2h1.6v1.6h-1.6zM454.2 98.2h1.6v1.6h-1.6zM500.2 70.2h1.6v1.6h-1.6zM476.2 85.2h1.6v1.6h-1.6zM455.2 134.2h1.6v1.6h-1.6zM445.2 133.2h1.6v1.6h-1.6zM470.2 123.2h1.6v1.6h-1.6zM500.2 79.2h1.6v1.6h-1.6zM479.2 83.2h1.6v1.6h-1.6zM487.2 79.2h1.6v1.6h-1.6zM442.2 111.2h1.6v1.6h-1.6zM491.2 76.2h1.6v1.6h-1.6zM461.2 93.2h1.6v1.6h-1.6zM492.2 77.2h1.6v1.6h-1.6zM502.2 70.2h1.6v1.6h-1.6zM500.2 78.2h1.6v1.6h-1.6zM496.2 82.2h1.6v1.6h-1.6zM438.2 123.2h1.6v1.6h-1.6zM473.2 120.2h1.6v1.6h-1.6zM486.2 80.2h1.6v1.6h-1.6zM501.2 76.2h1.6v1.6h-1.6zM449.2 134.2h1.6v1.6h-1.6zM488.2 77.2h1.6v1.6h-1.6zM451.2 135.2h1.6v1.6h-1.6zM460.2 93.2h1.6v1.6h-1.6zM479.2 109.2h1.6v1.6h-1.6zM446.2 133.2h1.6v1.6h-1.6zM437.2 128.2h1.6v1.6h-1.6zM439.2 119.2h1.6v1.6h-1.6zM451.2 99.2h1.6v1.6h-1.6zM442.2 110.2h1.6v1.6h-1.6zM484.2 108.2h1.6v1.6h-1.6zM472.2 120.2h1.6v1.6h-1.6zM459.2 133.2h1.6v1.6h-1.6zM438.2 122.2h1.6v1.6h-1.6zM497.2 80.2h1.6v1.6h-1.6zM504.2 70.2h1.6v1.6h-1.6zM458.2 140.2h1.6v1.6h-1.6zM495.2 83.2h1.6v1.6h-1.6zM481.2 110.2h1.6v1.6h-1.6zM467.2 90.2h1.6v1.6h-1.6zM448.2 136.2h1.6v1.6h-1.6zM482.2 80.2h1.6v1.6h-1.6zM441.2 132.2h1.6v1.6h-1.6zM459.2 94.2h1.6v1.6h-1.6zM481.2 106.2h1.6v1.6h-1.6zM446.2 103.2h1.6v1.6h-1.6zM503.2 68.2h1.6v1.6h-1.6zM469.2 89.2h1.6v1.6h-1.6zM455.2 135.2h1.6v1.6h-1.6zM484.2 105.2h1.6v1.6h-1.6zM482.2 81.2h1.6v1.6h-1.6zM464.2 129.2h1.6v1.6h-1.6zM487.2 80.2h1.6v1.6h-1.6zM438.2 118.2h1.6v1.6h-1.6zM439.2 114.2h1.6v1.6h-1.6zM438.2 120.2h1.6v1.6h-1.6zM500.2 71.2h1.6v1.6h-1.6zM484.2 81.2h1.6v1.6h-1.6zM503.2 69.2h1.6v1.6h-1.6zM478.2 115.2h1.6v1.6h-1.6zM501.2 75.2h1.6v1.6h-1.6zM483.2 104.2h1.6v1.6h-1.6zM461.2 91.2h1.6v1.6h-1.6zM495.2 74.2h1.6v1.6h-1.6zM490.2 94.2h1.6v1.6h-1.6zM482.2 115.2h1.6v1.6h-1.6zM510.2 66.2h1.6v1.6h-1.6zM438.2 124.2h1.6v1.6h-1.6zM456.2 137.2h1.6v1.6h-1.6zM462.2 131.2h1.6v1.6h-1.6zM439.2 120.2h1.6v1.6h-1.6zM492.2 76.2h1.6v1.6h-1.6zM471.2 126.2h1.6v1.6h-1.6zM501.2 70.2h1.6v1.6h-1.6zM497.2 81.2h1.6v1.6h-1.6zM501.2 69.2h1.6v1.6h-1.6zM444.2 132.2h1.6v1.6h-1.6zM440.2 117.2h1.6v1.6h-1.6zM496.2 73.2h1.6v1.6h-1.6zM448.2 134.2h1.6v1.6h-1.6zM501.2 68.2h1.6v1.6h-1.6zM442.2 107.2h1.6v1.6h-1.6zM487.2 97.2h1.6v1.6h-1.6zM449.2 101.2h1.6v1.6h-1.6zM494.2 84.2h1.6v1.6h-1.6zM441.2 130.2h1.6v1.6h-1.6zM488.2 98.2h1.6v1.6h-1.6zM506.2 68.2h1.6v1.6h-1.6zM495.2 72.2h1.6v1.6h-1.6zM492.2 87.2h1.6v1.6h-1.6zM457.2 134.2h1.6v1.6h-1.6zM448.2 104.2h1.6v1.6h-1.6zM460.2 132.2h1.6v1.6h-1.6zM439.2 132.2h1.6v1.6h-1.6zM505.2 70.2h1.6v1.6h-1.6zM480.2 83.2h1.6v1.6h-1.6zM508.2 69.2h1.6v1.6h-1.6zM444.2 108.2h1.6v1.6h-1.6zM498.2 79.2h1.6v1.6h-1.6zM504.2 66.2h1.6v1.6h-1.6zM461.2 92.2h1.6v1.6h-1.6zM499.2 78.2h1.6v1.6h-1.6zM474.2 117.2h1.6v1.6h-1.6zM463.2 92.2h1.6v1.6h-1.6zM488.2 94.2h1.6v1.6h-1.6zM482.2 106.2h1.6v1.6h-1.6zM495.2 75.2h1.6v1.6h-1.6zM469.2 124.2h1.6v1.6h-1.6zM471.2 121.2h1.6v1.6h-1.6zM482.2 104.2h1.6v1.6h-1.6zM457.2 95.2h1.6v1.6h-1.6zM502.2 69.2h1.6v1.6h-1.6zM439.2 125.2h1.6v1.6h-1.6zM472.2 87.2h1.6v1.6h-1.6zM493.2 76.2h1.6v1.6h-1.6zM451.2 100.2h1.6v1.6h-1.6zM466.2 88.2h1.6v1.6h-1.6zM442.2 113.2h1.6v1.6h-1.6zM455.2 96.2h1.6v1.6h-1.6zM487.2 96.2h1.6v1.6h-1.6zM481.2 107.2h1.6v1.6h-1.6zM488.2 79.2h1.6v1.6h-1.6zM490.2 77.2h1.6v1.6h-1.6zM440.2 127.2h1.6v1.6h-1.6zM448.2 103.2h1.6v1.6h-1.6zM476.2 115.2h1.6v1.6h-1.6zM487.2 102.2h1.6v1.6h-1.6zM451.2 137.2h1.6v1.6h-1.6zM438.2 117.2h1.6v1.6h-1.6zM441.2 129.2h1.6v1.6h-1.6zM462.2 92.2h1.6v1.6h-1.6zM453.2 135.2h1.6v1.6h-1.6zM440.2 130.2h1.6v1.6h-1.6zM506.2 69.2h1.6v1.6h-1.6zM488.2 78.2h1.6v1.6h-1.6zM504.2 63.2h1.6v1.6h-1.6zM469.2 88.2h1.6v1.6h-1.6zM495.2 85.2h1.6v1.6h-1.6zM506.2 64.2h1.6v1.6h-1.6zM505.2 69.2h1.6v1.6h-1.6zM440.2 116.2h1.6v1.6h-1.6zM452.2 139.2h1.6v1.6h-1.6zM504.2 68.2h1.6v1.6h-1.6zM499.2 77.2h1.6v1.6h-1.6zM450.2 101.2h1.6v1.6h-1.6zM468.2 128.2h1.6v1.6h-1.6zM455.2 97.2h1.6v1.6h-1.6zM499.2 72.2h1.6v1.6h-1.6zM439.2 126.2h1.6v1.6h-1.6zM467.2 127.2h1.6v1.6h-1.6zM482.2 110.2h1.6v1.6h-1.6zM485.2 99.2h1.6v1.6h-1.6zM456.2 135.2h1.6v1.6h-1.6zM485.2 101.2h1.6v1.6h-1.6zM463.2 130.2h1.6v1.6h-1.6zM508.2 64.2h1.6v1.6h-1.6zM485.2 81.2h1.6v1.6h-1.6zM506.2 66.2h1.6v1.6h-1.6zM479.2 110.2h1.6v1.6h-1.6zM450.2 135.2h1.6v1.6h-1.6zM508.2 68.2h1.6v1.6h-1.6zM497.2 74.2h1.6v1.6h-1.6zM463.2 91.2h1.6v1.6h-1.6zM475.2 118.2h1.6v1.6h-1.6zM437.2 126.2h1.6v1.6h-1.6zM439.2 121.2h1.6v1.6h-1.6zM501.2 71.2h1.6v1.6h-1.6zM480.2 108.2h1.6v1.6h-1.6zM476.2 114.2h1.6v1.6h-1.6zM507.2 63.2h1.6v1.6h-1.6zM487.2 95.2h1.6v1.6h-1.6zM496.2 81.2h1.6v1.6h-1.6zM507.2 66.2h1.6v1.6h-1.6zM484.2 101.2h1.6v1.6h-1.6zM502.2 66.2h1.6v1.6h-1.6zM493.2 74.2h1.6v1.6h-1.6zM496.2 72.2h1.6v1.6h-1.6zM504.2 71.2h1.6v1.6h-1.6zM483.2 111.2h1.6v1.6h-1.6zM505.2 65.2h1.6v1.6h-1.6zM443.2 106.2h1.6v1.6h-1.6zM481.2 81.2h1.6v1.6h-1.6zM442.2 133.2h1.6v1.6h-1.6zM476.2 116.2h1.6v1.6h-1.6zM506.2 72.2h1.6v1.6h-1.6zM474.2 85.2h1.6v1.6h-1.6zM483.2 102.2h1.6v1.6h-1.6zM496.2 74.2h1.6v1.6h-1.6zM468.2 126.2h1.6v1.6h-1.6zM495.2 82.2h1.6v1.6h-1.6zM484.2 80.2h1.6v1.6h-1.6zM473.2 85.2h1.6v1.6h-1.6zM477.2 84.2h1.6v1.6h-1.6zM486.2 99.2h1.6v1.6h-1.6zM466.2 128.2h1.6v1.6h-1.6zM470.2 88.2h1.6v1.6h-1.6zM478.2 111.2h1.6v1.6h-1.6zM474.2 86.2h1.6v1.6h-1.6zM499.2 71.2h1.6v1.6h-1.6zM446.2 106.2h1.6v1.6h-1.6zM498.2 73.2h1.6v1.6h-1.6zM429.2 155.2h1.6v1.6h-1.6zM447.2 145.2h1.6v1.6h-1.6zM427.2 148.2h1.6v1.6h-1.6zM427.2 155.2h1.6v1.6h-1.6zM446.2 135.2h1.6v1.6h-1.6zM425.2 127.2h1.6v1.6h-1.6zM427.2 145.2h1.6v1.6h-1.6zM432.2 137.2h1.6v1.6h-1.6zM421.2 139.2h1.6v1.6h-1.6zM417.2 155.2h1.6v1.6h-1.6zM439.2 142.2h1.6v1.6h-1.6zM429.2 153.2h1.6v1.6h-1.6zM436.2 132.2h1.6v1.6h-1.6zM451.2 152.2h1.6v1.6h-1.6zM418.2 145.2h1.6v1.6h-1.6zM436.2 151.2h1.6v1.6h-1.6zM415.2 135.2h1.6v1.6h-1.6zM409.2 156.2h1.6v1.6h-1.6zM438.2 131.2h1.6v1.6h-1.6zM409.2 163.2h1.6v1.6h-1.6zM436.2 131.2h1.6v1.6h-1.6zM430.2 148.2h1.6v1.6h-1.6zM420.2 147.2h1.6v1.6h-1.6zM425.2 170.2h1.6v1.6h-1.6zM450.2 141.2h1.6v1.6h-1.6zM428.2 132.2h1.6v1.6h-1.6zM409.2 150.2h1.6v1.6h-1.6zM417.2 156.2h1.6v1.6h-1.6zM436.2 139.2h1.6v1.6h-1.6zM410.2 156.2h1.6v1.6h-1.6zM433.2 146.2h1.6v1.6h-1.6zM405.2 157.2h1.6v1.6h-1.6zM433.2 131.2h1.6v1.6h-1.6zM416.2 164.2h1.6v1.6h-1.6zM446.2 146.2h1.6v1.6h-1.6zM430.2 147.2h1.6v1.6h-1.6zM415.2 152.2h1.6v1.6h-1.6zM419.2 152.2h1.6v1.6h-1.6zM434.2 139.2h1.6v1.6h-1.6zM416.2 157.2h1.6v1.6h-1.6zM420.2 160.2h1.6v1.6h-1.6zM430.2 139.2h1.6v1.6h-1.6zM432.2 143.2h1.6v1.6h-1.6zM433.2 150.2h1.6v1.6h-1.6zM434.2 149.2h1.6v1.6h-1.6zM435.2 143.2h1.6v1.6h-1.6zM420.2 155.2h1.6v1.6h-1.6zM435.2 154.2h1.6v1.6h-1.6zM434.2 145.2h1.6v1.6h-1.6zM433.2 138.2h1.6v1.6h-1.6zM424.2 147.2h1.6v1.6h-1.6zM426.2 144.2h1.6v1.6h-1.6zM438.2 136.2h1.6v1.6h-1.6zM434.2 141.2h1.6v1.6h-1.6zM461.2 133.2h1.6v1.6h-1.6zM432.2 130.2h1.6v1.6h-1.6zM432.2 135.2h1.6v1.6h-1.6zM439.2 128.2h1.6v1.6h-1.6zM446.2 137.2h1.6v1.6h-1.6zM440.2 132.2h1.6v1.6h-1.6zM437.2 140.2h1.6v1.6h-1.6zM412.2 165.2h1.6v1.6h-1.6zM424.2 161.2h1.6v1.6h-1.6zM422.2 154.2h1.6v1.6h-1.6zM411.2 169.2h1.6v1.6h-1.6zM425.2 150.2h1.6v1.6h-1.6zM438.2 130.2h1.6v1.6h-1.6zM431.2 143.2h1.6v1.6h-1.6zM433.2 147.2h1.6v1.6h-1.6zM422.2 131.2h1.6v1.6h-1.6zM436.2 145.2h1.6v1.6h-1.6zM424.2 146.2h1.6v1.6h-1.6zM426.2 149.2h1.6v1.6h-1.6zM417.2 145.2h1.6v1.6h-1.6zM436.2 133.2h1.6v1.6h-1.6zM464.2 135.2h1.6v1.6h-1.6zM418.2 156.2h1.6v1.6h-1.6zM425.2 154.2h1.6v1.6h-1.6zM440.2 133.2h1.6v1.6h-1.6zM447.2 155.2h1.6v1.6h-1.6zM440.2 137.2h1.6v1.6h-1.6zM411.2 162.2h1.6v1.6h-1.6zM425.2 131.2h1.6v1.6h-1.6zM421.2 152.2h1.6v1.6h-1.6zM417.2 142.2h1.6v1.6h-1.6zM427.2 157.2h1.6v1.6h-1.6zM431.2 150.2h1.6v1.6h-1.6zM448.2 142.2h1.6v1.6h-1.6zM416.2 167.2h1.6v1.6h-1.6zM436.2 136.2h1.6v1.6h-1.6zM443.2 134.2h1.6v1.6h-1.6zM433.2 140.2h1.6v1.6h-1.6zM451.2 153.2h1.6v1.6h-1.6zM424.2 144.2h1.6v1.6h-1.6zM426.2 131.2h1.6v1.6h-1.6zM432.2 148.2h1.6v1.6h-1.6zM436.2 134.2h1.6v1.6h-1.6zM444.2 143.2h1.6v1.6h-1.6zM435.2 146.2h1.6v1.6h-1.6zM434.2 161.2h1.6v1.6h-1.6zM432.2 149.2h1.6v1.6h-1.6zM448.2 141.2h1.6v1.6h-1.6zM416.2 147.2h1.6v1.6h-1.6zM417.2 171.2h1.6v1.6h-1.6zM427.2 130.2h1.6v1.6h-1.6zM415.2 145.2h1.6v1.6h-1.6zM428.2 146.2h1.6v1.6h-1.6zM448.2 140.2h1.6v1.6h-1.6zM435.2 137.2h1.6v1.6h-1.6zM435.2 153.2h1.6v1.6h-1.6zM440.2 148.2h1.6v1.6h-1.6zM442.2 148.2h1.6v1.6h-1.6zM431.2 135.2h1.6v1.6h-1.6zM416.2 137.2h1.6v1.6h-1.6zM421.2 157.2h1.6v1.6h-1.6zM434.2 155.2h1.6v1.6h-1.6zM428.2 149.2h1.6v1.6h-1.6zM449.2 137.2h1.6v1.6h-1.6zM433.2 149.2h1.6v1.6h-1.6zM431.2 151.2h1.6v1.6h-1.6zM439.2 140.2h1.6v1.6h-1.6zM414.2 151.2h1.6v1.6h-1.6zM441.2 148.2h1.6v1.6h-1.6zM439.2 146.2h1.6v1.6h-1.6zM439.2 134.2h1.6v1.6h-1.6zM426.2 151.2h1.6v1.6h-1.6zM436.2 127.2h1.6v1.6h-1.6zM416.2 154.2h1.6v1.6h-1.6zM419.2 149.2h1.6v1.6h-1.6zM422.2 152.2h1.6v1.6h-1.6zM425.2 146.2h1.6v1.6h-1.6zM421.2 147.2h1.6v1.6h-1.6zM440.2 136.2h1.6v1.6h-1.6zM416.2 138.2h1.6v1.6h-1.6zM439.2 148.2h1.6v1.6h-1.6zM427.2 154.2h1.6v1.6h-1.6zM433.2 141.2h1.6v1.6h-1.6zM422.2 147.2h1.6v1.6h-1.6zM428.2 144.2h1.6v1.6h-1.6zM432.2 125.2h1.6v1.6h-1.6zM414.2 141.2h1.6v1.6h-1.6zM428.2 138.2h1.6v1.6h-1.6zM425.2 136.2h1.6v1.6h-1.6zM418.2 171.2h1.6v1.6h-1.6zM442.2 144.2h1.6v1.6h-1.6zM440.2 147.2h1.6v1.6h-1.6zM415.2 156.2h1.6v1.6h-1.6zM451.2 138.2h1.6v1.6h-1.6zM413.2 164.2h1.6v1.6h-1.6zM440.2 139.2h1.6v1.6h-1.6zM426.2 150.2h1.6v1.6h-1.6zM430.2 155.2h1.6v1.6h-1.6zM446.2 140.2h1.6v1.6h-1.6zM415.2 161.2h1.6v1.6h-1.6zM434.2 128.2h1.6v1.6h-1.6zM440.2 142.2h1.6v1.6h-1.6zM419.2 161.2h1.6v1.6h-1.6zM425.2 138.2h1.6v1.6h-1.6zM401.2 159.2h1.6v1.6h-1.6zM422.2 141.2h1.6v1.6h-1.6zM420.2 159.2h1.6v1.6h-1.6zM447.2 144.2h1.6v1.6h-1.6zM411.2 160.2h1.6v1.6h-1.6zM425.2 159.2h1.6v1.6h-1.6zM427.2 147.2h1.6v1.6h-1.6zM414.2 138.2h1.6v1.6h-1.6zM421.2 143.2h1.6v1.6h-1.6zM437.2 124.2h1.6v1.6h-1.6zM425.2 153.2h1.6v1.6h-1.6zM429.2 165.2h1.6v1.6h-1.6zM440.2 158.2h1.6v1.6h-1.6zM417.2 152.2h1.6v1.6h-1.6zM437.2 135.2h1.6v1.6h-1.6zM419.2 157.2h1.6v1.6h-1.6zM433.2 142.2h1.6v1.6h-1.6zM421.2 159.2h1.6v1.6h-1.6zM431.2 149.2h1.6v1.6h-1.6zM427.2 134.2h1.6v1.6h-1.6zM446.2 143.2h1.6v1.6h-1.6zM420.2 146.2h1.6v1.6h-1.6zM438.2 153.2h1.6v1.6h-1.6zM434.2 132.2h1.6v1.6h-1.6zM404.2 160.2h1.6v1.6h-1.6zM453.2 155.2h1.6v1.6h-1.6zM408.2 153.2h1.6v1.6h-1.6zM423.2 140.2h1.6v1.6h-1.6zM428.2 163.2h1.6v1.6h-1.6zM438.2 134.2h1.6v1.6h-1.6zM451.2 129.2h1.6v1.6h-1.6zM435.2 144.2h1.6v1.6h-1.6zM439.2 129.2h1.6v1.6h-1.6zM441.2 133.2h1.6v1.6h-1.6zM444.2 136.2h1.6v1.6h-1.6zM434.2 134.2h1.6v1.6h-1.6zM442.2 122.2h1.6v1.6h-1.6zM445.2 130.2h1.6v1.6h-1.6zM447.2 129.2h1.6v1.6h-1.6zM451.2 126.2h1.6v1.6h-1.6zM457.2 130.2h1.6v1.6h-1.6zM442.2 126.2h1.6v1.6h-1.6zM442.2 138.2h1.6v1.6h-1.6zM443.2 131.2h1.6v1.6h-1.6zM441.2 126.2h1.6v1.6h-1.6zM435.2 135.2h1.6v1.6h-1.6zM449.2 139.2h1.6v1.6h-1.6zM446.2 126.2h1.6v1.6h-1.6zM445.2 126.2h1.6v1.6h-1.6zM452.2 131.2h1.6v1.6h-1.6zM439.2 137.2h1.6v1.6h-1.6zM445.2 135.2h1.6v1.6h-1.6zM432.2 140.2h1.6v1.6h-1.6zM443.2 129.2h1.6v1.6h-1.6zM451.2 144.2h1.6v1.6h-1.6zM445.2 137.2h1.6v1.6h-1.6zM440.2 143.2h1.6v1.6h-1.6zM443.2 140.2h1.6v1.6h-1.6zM442.2 131.2h1.6v1.6h-1.6zM454.2 143.2h1.6v1.6h-1.6zM441.2 134.2h1.6v1.6h-1.6zM437.2 131.2h1.6v1.6h-1.6zM447.2 133.2h1.6v1.6h-1.6zM448.2 143.2h1.6v1.6h-1.6zM435.2 132.2h1.6v1.6h-1.6zM444.2 133.2h1.6v1.6h-1.6zM441.2 117.2h1.6v1.6h-1.6zM448.2 129.2h1.6v1.6h-1.6zM447.2 125.2h1.6v1.6h-1.6zM443.2 136.2h1.6v1.6h-1.6zM443.2 128.2h1.6v1.6h-1.6zM438.2 132.2h1.6v1.6h-1.6zM456.2 129.2h1.6v1.6h-1.6zM455.2 131.2h1.6v1.6h-1.6zM440.2 152.2h1.6v1.6h-1.6zM453.2 122.2h1.6v1.6h-1.6zM446.2 131.2h1.6v1.6h-1.6zM438.2 133.2h1.6v1.6h-1.6zM432.2 128.2h1.6v1.6h-1.6zM447.2 132.2h1.6v1.6h-1.6zM449.2 133.2h1.6v1.6h-1.6zM440.2 141.2h1.6v1.6h-1.6zM434.2 136.2h1.6v1.6h-1.6zM452.2 130.2h1.6v1.6h-1.6zM447.2 136.2h1.6v1.6h-1.6zM443.2 127.2h1.6v1.6h-1.6zM442.2 123.2h1.6v1.6h-1.6zM442.2 128.2h1.6v1.6h-1.6zM440.2 131.2h1.6v1.6h-1.6zM446.2 123.2h1.6v1.6h-1.6zM445.2 127.2h1.6v1.6h-1.6zM455.2 129.2h1.6v1.6h-1.6zM435.2 134.2h1.6v1.6h-1.6zM450.2 130.2h1.6v1.6h-1.6zM443.2 130.2h1.6v1.6h-1.6zM434.2 123.2h1.6v1.6h-1.6zM444.2 131.2h1.6v1.6h-1.6zM447.2 131.2h1.6v1.6h-1.6zM382.6 127.2h1.6v1.6h-1.6zM382.6 137.2h1.6v1.6h-1.6zM382.6 139.9h1.6v1.6h-1.6zM382.6 142.7h1.6v1.6h-1.6zM382.6 145.4h1.6v1.6h-1.6zM382.6 150.8h1.6v1.6h-1.6zM382.6 153.5h1.6v1.6h-1.6zM382.6 157.2h1.6v1.6h-1.6zM390.2 135.1h1.6v1.6h-1.6zM390.2 143.2h1.6v1.6h-1.6zM394.9 127.6h1.6v1.6h-1.6zM398.9 160.2h1.6v1.6h-1.6zM400.4 167.7h1.6v1.6h-1.6zM405.6 167.1h1.6v1.6h-1.6zM408.3 173.1h1.6v1.6h-1.6zM411.2 175.6h1.6v1.6h-1.6zM417.9 188.8h1.6v1.6h-1.6zM425.2 188.3h1.6v1.6h-1.6zM428.4 188.8h1.6v1.6h-1.6zM439.7 168.6h1.6v1.6h-1.6zM443.3 175.2h1.6v1.6h-1.6zM450.2 185.8h1.6v1.6h-1.6zM450.5 159.9h1.6v1.6h-1.6zM452.4 162.2h1.6v1.6h-1.6zM460.5 150.8h1.6v1.6h-1.6z" fill="#404040"/><g stroke="#f29a9a" stroke-width="0.8"><line x1="446" y1="92.2" x2="461" y2="101.5"/><line x1="451.5" y1="79.1" x2="465.6" y2="96.5"/><line x1="461.4" y1="59" x2="468.4" y2="96"/><line x1="474" y1="53.5" x2="471.6" y2="96"/></g><path d="M460.00 102.90a2.6 2.6 0 1 0 5.2 0a2.6 2.6 0 1 0 -5.2 0M464.70 98.40a2.6 2.6 0 1 0 5.2 0a2.6 2.6 0 1 0 -5.2 0M466.60 100.60a2.6 2.6 0 1 0 5.2 0a2.6 2.6 0 1 0 -5.2 0M470.10 99.30a2.6 2.6 0 1 0 5.2 0a2.6 2.6 0 1 0 -5.2 0" fill="#f81414"/><g font-size="11.15" fill="#000"><text x="469" y="50.1"><tspan font-style="italic">Smarca4</tspan>-g4</text><text x="401.5" y="55.1"><tspan font-style="italic">Smarca4</tspan>-g3</text><text x="391.4" y="75.4"><tspan font-style="italic">Smarca4</tspan>-g1</text><text x="384.5" y="95.0"><tspan font-style="italic">Smarca4</tspan>-g2</text></g><g stroke="#000" stroke-width="1.9" fill="none"><path d="M380.6 39.800000000000004 V194.0 H534.6999999999999"/><path d="M374.1 194.00 H380.6"/><path d="M380.60 194.0 V200"/><path d="M374.1 163.34 H380.6"/><path d="M411.24 194.0 V200"/><path d="M374.1 132.68 H380.6"/><path d="M441.88 194.0 V200"/><path d="M374.1 102.02 H380.6"/><path d="M472.52 194.0 V200"/><path d="M374.1 71.36 H380.6"/><path d="M503.16 194.0 V200"/><path d="M374.1 40.70 H380.6"/><path d="M533.80 194.0 V200"/></g><g font-size="11.0" fill="#000" text-anchor="end"><text x="371.2" y="197.90">0</text><text x="371.2" y="167.24">3</text><text x="371.2" y="136.58">6</text><text x="371.2" y="105.92">9</text><text x="371.2" y="75.26">12</text><text x="371.2" y="44.60">15</text></g><g font-size="11.0" fill="#000" text-anchor="middle"><text x="380.60" y="212.8">0</text><text x="411.24" y="212.8">3</text><text x="441.88" y="212.8">6</text><text x="472.52" y="212.8">9</text><text x="503.16" y="212.8">12</text><text x="533.80" y="212.8">15</text></g><g font-size="11.3" text-anchor="middle"><text x="457.3" y="230.2">Log normalized counts</text><text x="456.9" y="244.0">gRNA (Control)</text></g><g font-size="11.3" text-anchor="middle"><text transform="translate(340 117.5) rotate(-90)">Log normalized gRNA counts</text><text transform="translate(352.4 117.3) rotate(-90)">(MHV-A59)</text></g><path d="M127.40 282.60a3.9 3.9 0 1 0 7.8 0a3.9 3.9 0 1 0 -7.8 0" fill="#000"/><path d="M127.00 304.50a3.9 3.9 0 1 0 7.8 0a3.9 3.9 0 1 0 -7.8 0" fill="#f8200e"/><g font-size="11.9" fill="#000"><text x="140" y="286.9">gRNA count in control pool</text><text x="140" y="308.7">gRNA count in MHV-infected pool</text></g><path d="M104.10 325.50a4.0 4.0 0 1 0 8.0 0a4.0 4.0 0 1 0 -8.0 0M165.10 330.10a4.0 4.0 0 1 0 8.0 0a4.0 4.0 0 1 0 -8.0 0M226.00 325.40a4.0 4.0 0 1 0 8.0 0a4.0 4.0 0 1 0 -8.0 0M287.00 324.10a4.0 4.0 0 1 0 8.0 0a4.0 4.0 0 1 0 -8.0 0" fill="#f8200e"/><path d="M104.10 334.90a4.0 4.0 0 1 0 8.0 0a4.0 4.0 0 1 0 -8.0 0M165.10 340.10a4.0 4.0 0 1 0 8.0 0a4.0 4.0 0 1 0 -8.0 0M226.00 332.50a4.0 4.0 0 1 0 8.0 0a4.0 4.0 0 1 0 -8.0 0M287.00 328.40a4.0 4.0 0 1 0 8.0 0a4.0 4.0 0 1 0 -8.0 0" fill="#000"/><g stroke="#000" stroke-width="1.9" fill="none"><path d="M77.9 300.3 V453.7 H321.4"/><path d="M71.2 453.70 H77.9"/><path d="M71.2 425.76 H77.9"/><path d="M71.2 397.82 H77.9"/><path d="M71.2 369.88 H77.9"/><path d="M71.2 341.94 H77.9"/><path d="M71.2 314.00 H77.9"/><path d="M108.1 453.7 V459.6"/><path d="M169.1 453.7 V459.6"/><path d="M230.0 453.7 V459.6"/><path d="M291.0 453.7 V459.6"/></g><g font-size="11.0" fill="#000" text-anchor="end"><text x="68.2" y="457.60">0</text><text x="68.2" y="429.66">2</text><text x="68.2" y="401.72">4</text><text x="68.2" y="373.78">6</text><text x="68.2" y="345.84">8</text><text x="68.2" y="317.90">10</text></g><g font-size="12.0" fill="#000" text-anchor="end" font-style="italic"><text transform="translate(111.4 470) rotate(-45)">Smarca4-g1</text><text transform="translate(172.4 470) rotate(-45)">Smarca4-g2</text><text transform="translate(233.3 470) rotate(-45)">Smarca4-g3</text><text transform="translate(294.3 470) rotate(-45)">Smarca4-g4</text></g><text transform="translate(52 375.7) rotate(-90)" font-size="11.3" text-anchor="middle">Mean gRNA, Log2 (count+1)</text></svg>
</body></html>
